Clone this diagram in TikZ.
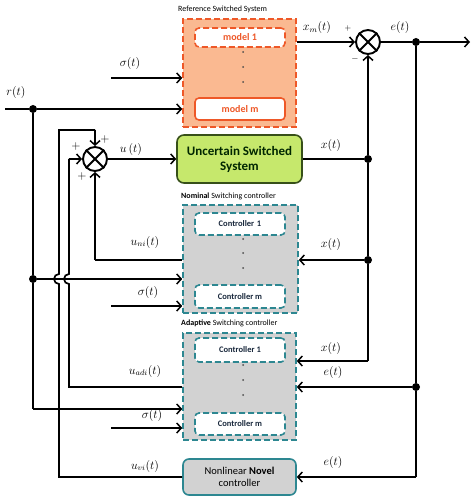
\documentclass[tikz,border=0pt]{standalone}
\usepackage{fontspec}
\setmainfont{Carlito}
\usetikzlibrary{arrows.meta,calc}
\definecolor{orfill}{RGB}{250,185,145}
\definecolor{orline}{RGB}{238,88,40}
\definecolor{grfill}{RGB}{198,232,108}
\definecolor{grline}{RGB}{55,80,25}
\definecolor{tealc}{RGB}{45,135,145}
\definecolor{gfill}{RGB}{210,210,210}
\definecolor{navyc}{RGB}{25,40,60}
\tikzset{
  ln/.style={line width=1.7pt, black},
  arr/.style={ln, -{Straight Barb[length=4.5pt,width=10pt,line width=1.5pt]}},
  dotc/.style={circle, fill=black, inner sep=0pt, minimum size=8pt},
  summer/.style={circle, draw=black, line width=1.9pt, fill=white, minimum size=24pt, inner sep=0pt},
  refbox/.style={draw=orline, fill=orfill, dash pattern=on 6pt off 3pt, line width=1.6pt},
  modelbox/.style={draw=orline, fill=white, rounded corners=4pt, line width=1.6pt, minimum width=90pt, text=orline, font=\fontsize{10}{12}\selectfont\bfseries},
  ctrlbig/.style={draw=tealc, fill=gfill, dash pattern=on 6pt off 3pt, line width=1.6pt},
  ctrlbox/.style={draw=tealc, fill=white, rounded corners=4pt, line width=1.6pt, dash pattern=on 6pt off 3pt, minimum width=90pt, text=navyc, font=\fontsize{8.5}{10}\selectfont\bfseries},
  lab/.style={font=\fontsize{11.5}{13}\selectfont},
  captxt/.style={font=\fontsize{8}{9}\selectfont, anchor=west, inner sep=0pt},
  sgn/.style={font=\fontsize{12}{13}\selectfont, inner sep=0pt},
  dotsm/.style={circle, fill=black!70, inner sep=0pt, minimum size=2pt}
}
\begin{document}
\begin{tikzpicture}[x=1pt,y=-1pt]
\useasboundingbox[fill=white] (0,0) rectangle (474,502);
% --- blocks
\node[refbox, minimum width=113pt, minimum height=108pt] (ref) at (239.5,73) {};
\node[modelbox, dash pattern=on 6pt off 3pt, minimum height=19pt] (m1) at (240,37.5) {model 1};
\node[modelbox, minimum height=22pt] (mm) at (240,109) {model m};
\node[dotsm] (rd1) at (243,52) {};
\node[dotsm] (rd2) at (243,67) {};
\node[dotsm] (rd3) at (243,82) {};
\node[captxt] (refcap) at (178,9) {Reference Switched System};

\node[draw=grline, fill=grfill, rounded corners=7pt, line width=1.6pt, minimum width=125pt, minimum height=48pt, align=center, text=black!85!green, font=\fontsize{13}{15}\selectfont\bfseries] (plant) at (239.5,159) {Uncertain Switched\\System};

\node[captxt] (nomcap) at (181,196) {\textbf{Nominal} Switching controller};
\node[ctrlbig, minimum width=115pt, minimum height=108pt] (nom) at (240.5,259) {};
\node[ctrlbox, minimum height=22pt] (n1) at (240,224) {Controller\,\,1};
\node[ctrlbox, minimum height=23pt] (nm) at (240,296.5) {Controller m};
\node[dotsm] (nd1) at (243,239) {};
\node[dotsm] (nd2) at (243,253) {};
\node[dotsm] (nd3) at (243,268) {};

\node[captxt] (adcap) at (181,323) {\textbf{Adaptive} Switching controller};
\node[ctrlbig, minimum width=113pt, minimum height=107pt] (ad) at (239.5,386.5) {};
\node[ctrlbox, minimum height=24pt] (a1) at (240,350) {Controller 1};
\node[ctrlbox, minimum height=22pt] (am) at (240,424) {Controller m};
\node[dotsm] (ad1) at (243,365) {};
\node[dotsm] (ad2) at (243,380) {};
\node[dotsm] (ad3) at (243,395) {};

\node[draw=tealc, fill=gfill, rounded corners=6pt, line width=1.6pt, minimum width=113pt, minimum height=36pt, align=center, font=\fontsize{10.5}{12.5}\selectfont] (nov) at (239.5,477) {Nonlinear \textbf{Novel}\\controller};

% --- summers
\node[summer] (s1) at (95,159) {};
\draw[ln, line width=1.9pt] (s1.north west) -- (s1.south east) (s1.north east) -- (s1.south west);
\node[summer] (s2) at (368,42) {};
\draw[ln, line width=1.9pt] (s2.north west) -- (s2.south east) (s2.north east) -- (s2.south west);

% --- coordinates
\coordinate (rin) at (5,109);
\node[dotc] (d1) at (33,109) {};
\node[dotc] (d2) at (33,279) {};
\coordinate (rc) at (33,409);
\coordinate (sg1) at (111,78);
\coordinate (sg2) at (111,306);
\coordinate (sg3) at (111,428);
\coordinate (fa) at (59,130);
\coordinate (fa2) at (95,130);
\coordinate (fb) at (69,159);
\coordinate (fc) at (95,260);
\coordinate (eout) at (470,42);
\node[dotc] (de) at (416,42) {};
\node[dotc] (dx) at (368,159) {};
\node[dotc] (dx2) at (368,260) {};
\coordinate (xc) at (368,361);
\node[dotc] (de2) at (416,387) {};
\coordinate (ec) at (416,477);

% --- reference input
\draw[ln] (rin) -- (d1);
\draw[arr] (d1) -- (d1 -| ref.west);
\draw[ln] (d1) -- (d2) -- (rc);
\draw[arr] (rc) -- (rc -| ad.west);
\draw[arr] (d2) -- (d2 -| nom.west);
% sigma inputs
\draw[arr] (sg1) -- (sg1 -| ref.west);
\draw[arr] (sg2) -- (sg2 -| nom.west);
\draw[arr] (sg3) -- (sg3 -| ad.west);
% feedback into summer 1 (with jumps over r(t) branch)
\draw[ln] (nov.west) -- (59,477) -- (59,284) arc[start angle=90, end angle=270, radius=5] -- (fa) -- (fa2);
\draw[arr] (fa2) -- (s1.north);
\draw[ln] (ad.west |- 0,387) -- (69,387) -- (69,284) arc[start angle=90, end angle=270, radius=5] -- (fb);
\draw[arr] (fb) -- (s1.west);
\draw[ln] (nom.west |- fc) -- (fc);
\draw[arr] (fc) -- (s1.south);
\draw[arr] (s1.east) -- (s1 -| plant.west);
% right side
\draw[arr] (s2 -| ref.east) -- (s2.west);
\draw[ln] (s2.east) -- (de);
\draw[arr] (de) -- (eout);
\draw[ln] (plant.east |- dx) -- (dx);
\draw[arr] (dx) -- (s2.south);
\draw[ln] (dx) -- (dx2) -- (xc);
\draw[arr] (dx2) -- (dx2 -| nom.east);
\draw[arr] (xc) -- (xc -| ad.east);
\draw[ln] (de) -- (de2) -- (ec);
\draw[arr] (de2) -- (de2 -| ad.east);
\draw[arr] (ec) -- (ec -| nov.east);

% --- labels
\node[lab] (lr) at (16,93) {$r(t)$};
\node[lab] (ls1) at (130,64) {$\sigma(t)$};
\node[lab] (ls2) at (148,292) {$\sigma(t)$};
\node[lab] (ls3) at (152,415) {$\sigma(t)$};
\node[lab] (lu) at (131,150) {$u\,(t)$};
\node[lab] (lun) at (145,242) {$u_{ni}(t)$};
\node[lab] (lua) at (145,371) {$u_{adi}(t)$};
\node[lab] (luv) at (145,466) {$u_{vi}(t)$};
\node[lab] (lxm) at (317,28) {$x_m(t)$};
\node[lab] (le) at (400,28) {$e(t)$};
\node[lab] (lx1) at (331,146) {$x(t)$};
\node[lab] (lx2) at (331,244) {$x(t)$};
\node[lab] (lx3) at (331,348) {$x(t)$};
\node[lab] (le2) at (333,372) {$e(t)$};
\node[lab] (le3) at (333,462) {$e(t)$};
\node[sgn] (p1) at (105,140) {$+$};
\node[sgn] (p2) at (76,147) {$+$};
\node[sgn] (p3) at (82,177) {$+$};
\node[sgn, font=\fontsize{8}{9}\selectfont] (p4) at (348,29) {$+$};
\node[sgn, font=\fontsize{9}{10}\selectfont] (m4) at (355,59) {$-$};
\end{tikzpicture}
\end{document}
